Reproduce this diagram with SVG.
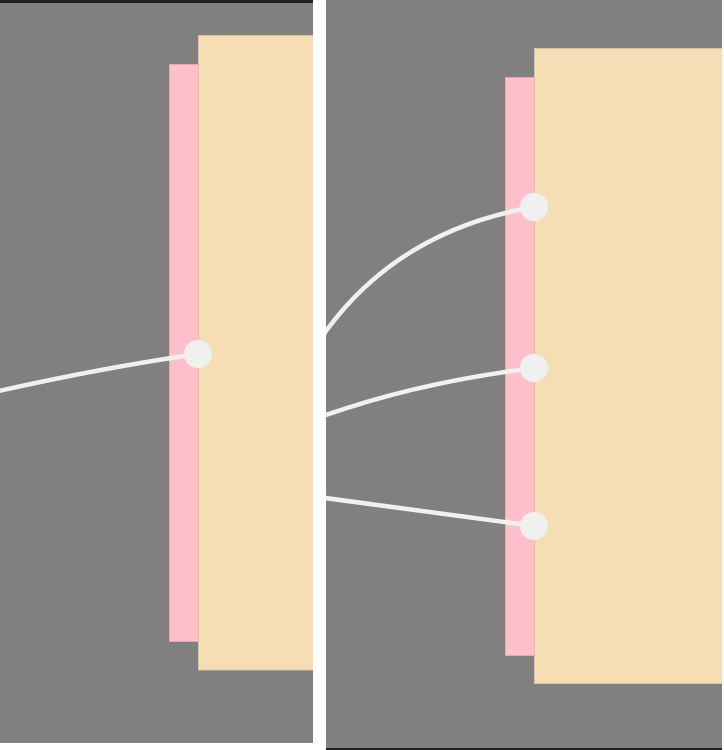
<svg xmlns="http://www.w3.org/2000/svg" width="724" height="750" viewBox="0 0 724 750">
  <defs>
    <style>
      .panel { fill: #808080; }
      .edge { fill: #222222; }
      .pink { fill: #ffc0cb; stroke: #e2a9b2; stroke-width: 1; }
      .wheat { fill: #f5deb3; stroke: #d9c49d; stroke-width: 1; }
      .wire { fill: none; stroke: #f0f0f0; stroke-width: 4.5; stroke-linecap: round; }
      .port { fill: #f0f0f0; }
    </style>
    <clipPath id="clipLeft"><rect x="0" y="3" width="313" height="740"/></clipPath>
    <clipPath id="clipRight"><rect x="326" y="0" width="396" height="748"/></clipPath>
  </defs>
  <rect x="0" y="0" width="724" height="750" fill="#ffffff"/>

  <g id="left-panel">
    <rect class="panel" x="0" y="0" width="313" height="743"/>
    <rect class="edge" x="0" y="0" width="313" height="3"/>
  </g>
  <g id="right-panel">
    <rect class="panel" x="326" y="0" width="396" height="748"/>
    <rect class="edge" x="326" y="748" width="396" height="2"/>
  </g>

  <g id="left-node" clip-path="url(#clipLeft)">
    <rect class="pink" x="169.5" y="64.5" width="29" height="577"/>
    <rect class="wheat" x="198.5" y="35.5" width="130" height="634.5"/>
  </g>
  <g id="right-node" clip-path="url(#clipRight)">
    <rect class="pink" x="505.5" y="77.5" width="29" height="578"/>
    <rect class="wheat" x="534.5" y="48.5" width="200" height="635"/>
  </g>

  <g id="connectors">
    <g clip-path="url(#clipLeft)">
      <path class="wire" d="M -10 393 Q 100 368 198 354"/>
    </g>
    <g clip-path="url(#clipRight)">
      <path class="wire" d="M 300 370 L 326 331 Q 400 230 534 207"/>
      <path class="wire" d="M 310 421 L 326 415 Q 420 382 534 368"/>
      <path class="wire" d="M 310 496 L 534 526"/>
    </g>
  </g>

  <g id="ports">
    <circle class="port" cx="198" cy="354" r="14"/>
    <circle class="port" cx="534" cy="207" r="14"/>
    <circle class="port" cx="534" cy="368" r="14"/>
    <circle class="port" cx="534" cy="526" r="14"/>
  </g>
</svg>
